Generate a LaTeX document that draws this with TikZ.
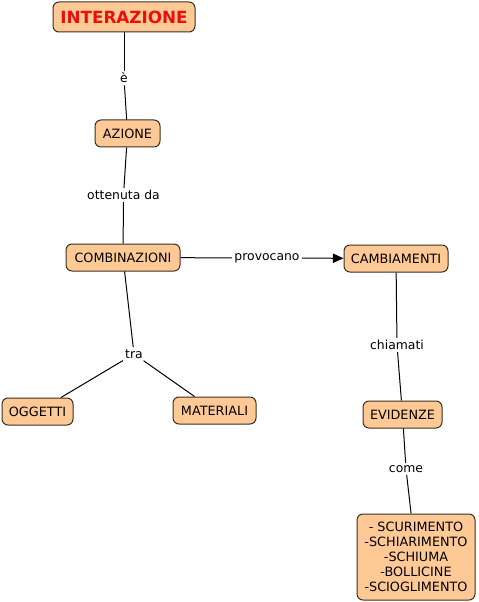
\documentclass[tikz,border=0pt]{standalone}
\usepackage{fontspec}
\setmainfont{DejaVu Sans}
\usetikzlibrary{arrows.meta}
\definecolor{boxfill}{HTML}{FFC996}
\definecolor{boxline}{HTML}{3A3020}
\definecolor{titlered}{HTML}{E8100C}
\begin{document}
\begin{tikzpicture}[x=0.75pt,y=-0.75pt,
  concept/.style={draw=boxline,fill=boxfill,rounded corners=4.5pt,line width=0.75pt,
    inner sep=0pt,font=\fontsize{9.6}{11.25}\selectfont,align=center},
  linklabel/.style={inner sep=1.5pt,font=\fontsize{9.3}{10}\selectfont},
  link/.style={draw=black,line width=0.75pt},
  every node/.style={text=black}]
\useasboundingbox (0,0) rectangle (478,602);
\node[concept,minimum width=142*0.75pt,minimum height=30*0.75pt,
  font=\fontsize{12.6}{15}\selectfont\bfseries,text=titlered] (inter) at (124,17) {INTERAZIONE};
\node[concept,minimum width=65*0.75pt,minimum height=27*0.75pt] (azione) at (127.5,133.5) {AZIONE};
\node[concept,minimum width=114*0.75pt,minimum height=27*0.75pt] (comb) at (123,257.5) {COMBINAZIONI};
\node[concept,minimum width=104*0.75pt,minimum height=27*0.75pt] (camb) at (396,258.5) {CAMBIAMENTI};
\node[concept,minimum width=71*0.75pt,minimum height=27*0.75pt] (ogg) at (37.5,411.5) {OGGETTI};
\node[concept,minimum width=83*0.75pt,minimum height=27*0.75pt] (mat) at (214.5,410.5) {MATERIALI};
\node[concept,minimum width=79*0.75pt,minimum height=27*0.75pt] (evid) at (402.5,414.5) {EVIDENZE};
\node[concept,minimum width=118*0.75pt,minimum height=86*0.75pt] (list) at (416,557) {- SCURIMENTO\\-SCHIARIMENTO\\-SCHIUMA\\-BOLLICINE\\-SCIOGLIMENTO};
\node[linklabel] (e) at (124,78) {è};
\node[linklabel] (ott) at (123.5,195) {ottenuta da};
\node[linklabel] (prov) at (267,258) {provocano};
\node[linklabel] (tra) at (134,354) {tra};
\node[linklabel] (chiam) at (397,345) {chiamati};
\node[linklabel] (come) at (406,469) {come};
\draw[link] (inter) -- (e);
\draw[link] (e) -- (azione);
\draw[link] (azione) -- (ott);
\draw[link] (ott) -- (comb);
\draw[link] (comb) -- (prov);
\draw[link,-{Triangle[length=8pt,width=7pt]}] (prov) -- (camb);
\draw[link] (comb) -- (tra);
\draw[link] (tra) -- (ogg);
\draw[link] (tra) -- (mat);
\draw[link] (camb) -- (chiam);
\draw[link] (chiam) -- (evid);
\draw[link] (evid) -- (come);
\draw[link] (come) -- (list);
\end{tikzpicture}
\end{document}
